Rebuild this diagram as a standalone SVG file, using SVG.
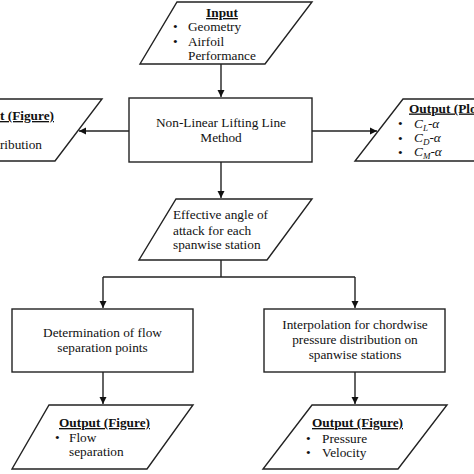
<svg xmlns="http://www.w3.org/2000/svg" width="474" height="474" viewBox="0 0 474 474" font-family="'Liberation Serif', 'DejaVu Serif', serif">
<defs>
<marker id="ah" markerWidth="8" markerHeight="8" refX="7" refY="4" orient="auto" markerUnits="userSpaceOnUse">
<path d="M0,0.5 L7,4 L0,7.5 Z" fill="#111"/>
</marker>
<style>
.s{fill:#fff;stroke:#222;stroke-width:1.4}
.c{fill:none;stroke:#222;stroke-width:1.4}
text{font-family:'Liberation Serif','DejaVu Serif',serif;font-size:13.3px;fill:#111}
.m{text-anchor:middle}
.h{font-weight:bold;text-decoration:underline}
.i{font-style:italic}
</style>
</defs>
<rect width="474" height="474" fill="#fff"/>
<g id="connectors">
<path class="c" d="M221,64 V97" marker-end="url(#ah)"/>
<path class="c" d="M129,131 H79" marker-end="url(#ah)"/>
<path class="c" d="M312,131 H377" marker-end="url(#ah)"/>
<path class="c" d="M221,162 V198" marker-end="url(#ah)"/>
<path class="c" d="M221,260 V277 M103,277 H355"/>
<path class="c" d="M103,277 V308" marker-end="url(#ah)"/>
<path class="c" d="M355,277 V308" marker-end="url(#ah)"/>
<path class="c" d="M103,372 V404" marker-end="url(#ah)"/>
<path class="c" d="M355,372 V404" marker-end="url(#ah)"/>
</g>
<g id="input">
<polygon class="s" points="177,2 312,2 265,64 140,64"/>
<text class="m h" x="222" y="17">Input</text>
<text x="173" y="31">•</text><text x="188" y="31">Geometry</text>
<text x="173" y="46">•</text><text x="188" y="46">Airfoil</text>
<text x="188" y="60">Performance</text>
</g>
<g id="nllm">
<rect class="s" x="129" y="98" width="183" height="64"/>
<text class="m" x="221" y="127">Non-Linear Lifting Line</text>
<text class="m" x="221" y="142">Method</text>
</g>
<g id="out-left">
<polygon class="s" points="-10,99 102,99 55,161 -57,161"/>
<text class="h" x="54" y="120" text-anchor="end">Output (Figure)</text>
<text x="42" y="149" text-anchor="end">distribution</text>
</g>
<g id="out-right">
<polygon class="s" points="403,99 520,99 520,161 355,161"/>
<text class="h" x="409" y="112.5">Output (Plot)</text>
<text x="398" y="128">•</text><text x="414" y="127.5"><tspan class="i">C</tspan><tspan class="i" font-size="9" dy="3">L</tspan><tspan dy="-3">-</tspan><tspan class="i">α</tspan></text>
<text x="398" y="143">•</text><text x="414" y="142"><tspan class="i">C</tspan><tspan class="i" font-size="9" dy="3">D</tspan><tspan dy="-3">-</tspan><tspan class="i">α</tspan></text>
<text x="398" y="157">•</text><text x="414" y="156"><tspan class="i">C</tspan><tspan class="i" font-size="9" dy="3">M</tspan><tspan dy="-3">-</tspan><tspan class="i">α</tspan></text>
</g>
<g id="aoa">
<polygon class="s" points="176,199 312,199 267,260 139,260"/>
<text x="173" y="219">Effective angle of</text>
<text x="173" y="235">attack for each</text>
<text x="173" y="249">spanwise station</text>
</g>
<g id="sep">
<rect class="s" x="12" y="309" width="181" height="63"/>
<text class="m" x="102.5" y="337">Determination of flow</text>
<text class="m" x="102.5" y="352">separation points</text>
</g>
<g id="interp">
<rect class="s" x="264" y="309" width="181" height="63"/>
<text class="m" x="355" y="329">Interpolation for chordwise</text>
<text class="m" x="355" y="344">pressure distribution on</text>
<text class="m" x="355" y="359">spanwise stations</text>
</g>
<g id="out-flow">
<polygon class="s" points="49,405 193,405 147,469 12,469"/>
<text class="h" x="59" y="427">Output (Figure)</text>
<text x="55" y="442">•</text><text x="69" y="442">Flow</text>
<text x="69" y="456">separation</text>
</g>
<g id="out-press">
<polygon class="s" points="312,405 447,405 398,469 263,469"/>
<text class="h" x="312" y="427">Output (Figure)</text>
<text x="306" y="443">•</text><text x="322" y="443">Pressure</text>
<text x="306" y="457">•</text><text x="322" y="457">Velocity</text>
</g>
</svg>
